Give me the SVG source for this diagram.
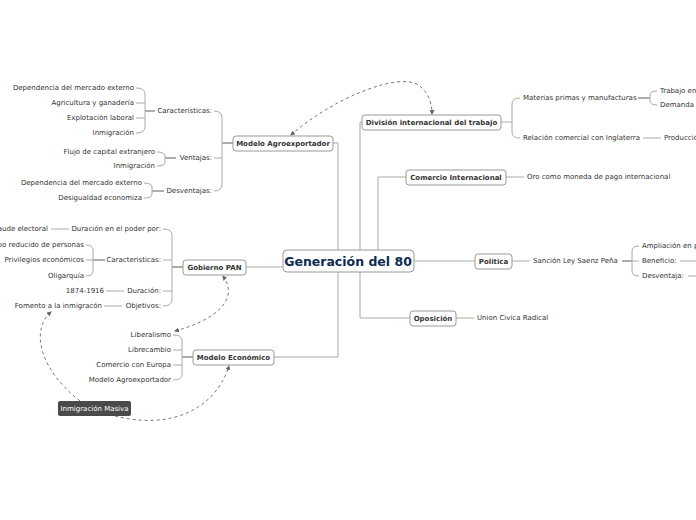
<svg xmlns="http://www.w3.org/2000/svg" width="696" height="520" viewBox="0 0 696 520">
<defs>
<marker id="ah" viewBox="0 0 10 10" refX="8" refY="5" markerWidth="5" markerHeight="5" orient="auto-start-reverse"><path d="M0,0 L10,5 L0,10 z" fill="#666"/></marker>
<style>
text{font-family:"DejaVu Sans",Verdana,sans-serif;font-size:7px;fill:#333;dominant-baseline:central}
.e{text-anchor:end}
.n rect{fill:#fff;stroke:#999;stroke-width:1}
.n text{font-weight:bold;text-anchor:middle;font-size:7px}
.l{fill:none;stroke:#aaa;stroke-width:1}
.b{fill:none;stroke:#777;stroke-width:1.2}
.d{fill:none;stroke:#777;stroke-width:1;stroke-dasharray:3,3}
</style>
</defs>
<rect width="696" height="520" fill="#fff"/>
<g id="connectors">
<path class="l" d="M333,143 H338 V357 H274"/>
<path class="l" d="M246,267 H283"/>
<path class="l" d="M360,122 H362 M360,122 V318 H410"/>
<path class="l" d="M378,250 V177 H406"/>
<path class="l" d="M414,261 H475"/>
<path class="l" d="M512,261 H530"/>
<path class="l" d="M456,318 H474"/>
<path class="l" d="M506,177 H524"/>
<path class="b" d="M222,143 H233"/>
<path class="l" d="M214,111 Q222,111 222,118 V184 Q222,191 214,191 M214,158 H222"/>
<path class="b" d="M145,111 H155"/>
<path class="l" d="M136,88 Q145,88 145,94 V127 Q145,133 136,133 M136,103 H145 M136,118 H145"/>
<path class="b" d="M165,158 H176"/>
<path class="l" d="M157,152 Q165,152 165,156 V162 Q165,166 157,166"/>
<path class="b" d="M152,191 H164"/>
<path class="l" d="M144,183 Q152,183 152,187 V194 Q152,198 144,198"/>
<path class="b" d="M172,267 H183"/>
<path class="l" d="M163,229 Q172,229 172,235 V300 Q172,306 163,306 M163,260 H172 M163,291 H172"/>
<path class="l" d="M51,229 H69 M106,291 H124 M104,306 H122"/>
<path class="b" d="M93,260 H105"/>
<path class="l" d="M86,245 Q93,245 93,250 V271 Q93,276 86,276 M86,260 H93"/>
<path class="b" d="M182,357 H193"/>
<path class="l" d="M173,335 Q182,335 182,340 V375 Q182,380 173,380 M173,350 H182 M173,365 H182"/>
<path class="l" d="M501,122 H512"/>
<path class="l" d="M520,98 Q512,98 512,104 V132 Q512,138 520,138 M512,122 H512"/>
<path class="b" d="M638,98 H650"/>
<path class="l" d="M657,91 Q650,91 650,95 V101 Q650,105 657,105"/>
<path class="l" d="M643,138 H661"/>
<path class="b" d="M622,261 H632"/>
<path class="l" d="M639,246 Q632,246 632,251 V271 Q632,276 639,276 M632,261 H639 M680,261 H696 M688,276 H696"/>
<path class="d" marker-start="url(#ah)" marker-end="url(#ah)" d="M291,135 C330,100 400,70 420,86 C430,95 432,105 432,114"/>
<path class="d" marker-start="url(#ah)" marker-end="url(#ah)" d="M223,276 C240,300 215,320 175,331"/>
<path class="d" marker-end="url(#ah)" d="M80,401 C40,370 30,330 51,312"/>
<path class="d" marker-end="url(#ah)" d="M115,416 C170,430 215,410 229,366"/>
</g>
<g id="central" class="n"><rect x="283" y="250" width="131" height="22" rx="4"/><text x="348" y="261" style="font-size:12.5px;fill:#0d2b52">Generación del 80</text></g>
<g id="agro" class="n"><rect x="233" y="136" width="100" height="15" rx="3"/><text x="283" y="143.5">Modelo Agroexportador</text></g>
<g id="pan" class="n"><rect x="183" y="260" width="63" height="15" rx="3"/><text x="214.5" y="267.5">Gobierno PAN</text></g>
<g id="eco" class="n"><rect x="193" y="350" width="81" height="15" rx="3"/><text x="233.5" y="357.5">Modelo Económico</text></g>
<g id="div" class="n"><rect x="362" y="115" width="139" height="15" rx="3"/><text x="431.5" y="122.5">División internacional del trabajo</text></g>
<g id="com" class="n"><rect x="406" y="170" width="100" height="15" rx="3"/><text x="456" y="177.5">Comercio Internacional</text></g>
<g id="pol" class="n"><rect x="475" y="254" width="37" height="15" rx="3"/><text x="493.5" y="261.5">Politica</text></g>
<g id="opo" class="n"><rect x="410" y="311" width="46" height="15" rx="3"/><text x="433" y="318.5">Oposición</text></g>
<g id="inm"><rect x="58" y="401" width="73" height="15" rx="2" fill="#4a4a4a"/><text x="94.5" y="408.5" style="fill:#fff;text-anchor:middle">Inmigración Masiva</text></g>
<g id="labels">
<text class="e" x="212" y="111">Características:</text>
<text class="e" x="212" y="158">Ventajas:</text>
<text class="e" x="212" y="191">Desventajas:</text>
<text class="e" x="134" y="88">Dependencia del mercado externo</text>
<text class="e" x="134" y="103">Agricultura y ganadería</text>
<text class="e" x="134" y="118">Explotación laboral</text>
<text class="e" x="134" y="133">Inmigración</text>
<text class="e" x="155" y="152">Flujo de capital extranjero</text>
<text class="e" x="155" y="166">Inmigración</text>
<text class="e" x="142" y="183">Dependencia del mercado externo</text>
<text class="e" x="142" y="198">Desigualdad economiza</text>
<text class="e" x="161" y="229">Duración en el poder por:</text>
<text class="e" x="161" y="260">Caracteristicas:</text>
<text class="e" x="161" y="291">Duración:</text>
<text class="e" x="161" y="306">Objetivos:</text>
<text class="e" x="48" y="229">Fraude electoral</text>
<text class="e" x="84" y="245">Grupo reducido de personas</text>
<text class="e" x="84" y="260">Privilegios económicos</text>
<text class="e" x="84" y="276">Oligarquía</text>
<text class="e" x="104" y="291">1874-1916</text>
<text class="e" x="102" y="306">Fomento a la inmigracón</text>
<text class="e" x="171" y="335">Liberalismo</text>
<text class="e" x="171" y="350">Librecambio</text>
<text class="e" x="171" y="365">Comercio con Europa</text>
<text class="e" x="171" y="380">Modelo Agroexportador</text>
<text x="523" y="98">Materias primas y manufacturas</text>
<text x="523" y="138">Relación comercial con Inglaterra</text>
<text x="660" y="91">Trabajo en</text>
<text x="660" y="105">Demanda</text>
<text x="664" y="138">Producción</text>
<text x="527" y="177">Oro como moneda de pago internacional</text>
<text x="533" y="261">Sanción Ley Saenz Peña</text>
<text x="642" y="246">Ampliación en p</text>
<text x="642" y="261">Beneficio:</text>
<text x="642" y="276">Desventaja:</text>
<text x="477" y="318">Union Civica Radical</text>
</g>
</svg>
